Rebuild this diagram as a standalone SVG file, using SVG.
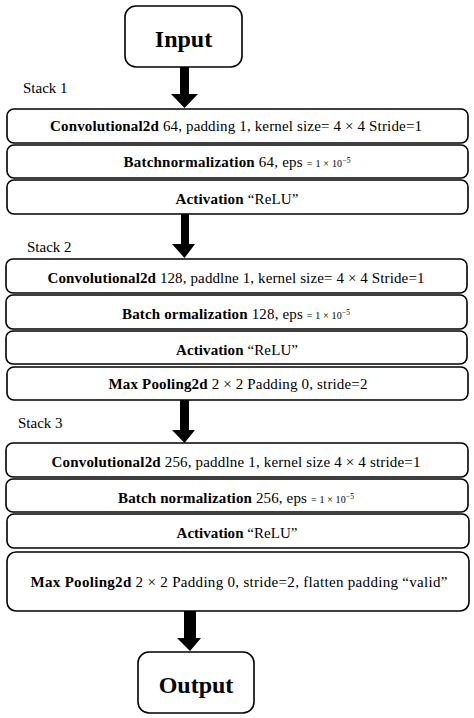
<svg xmlns="http://www.w3.org/2000/svg" width="474" height="718" viewBox="0 0 474 718">
<style>
.box{fill:#fff;stroke:#000;stroke-width:1.6}
.t{font-family:"Liberation Serif","DejaVu Serif",serif;font-size:15px;fill:#000;text-anchor:middle}
.b{font-weight:bold}
.s{font-size:10px}
.sup{font-size:7.5px}
.big{font-family:"Liberation Serif","DejaVu Serif",serif;font-size:24px;font-weight:bold;text-anchor:middle}
.lbl{font-family:"Liberation Serif","DejaVu Serif",serif;font-size:15px}
.arr{fill:#000}
</style>
<rect width="474" height="718" fill="#fff"/>
<g id="connectors">
<polygon class="arr" points="180,67 189,67 189,94 198,94 184.5,108 171,94 180,94"/>
<polygon class="arr" points="181,214 189,214 189,244 195,244 184.5,258 172,244 181,244"/>
<polygon class="arr" points="180,400 189,400 189,430 195,430 184.5,443 172,430 180,430"/>
<polygon class="arr" points="184,611 196,611 196,638 201,638 190,651 177,638 184,638"/>
</g>
<g id="input"><rect class="box" x="125" y="6" width="117" height="61" rx="11"/><text class="big" x="183.5" y="47">Input</text></g>
<g id="stack1-label"><text class="lbl" x="23" y="93">Stack 1</text></g>
<g id="conv1"><rect class="box" x="7" y="109" width="461" height="34" rx="7"/><text class="t" x="236" y="131" textLength="372" lengthAdjust="spacing"><tspan class="b">Convolutional2d</tspan> 64, padding 1, kernel size= 4 × 4 Stride=1</text></g>
<g id="bn1"><rect class="box" x="7" y="145" width="461" height="33" rx="7"/><text class="t" x="237" y="167" textLength="227" lengthAdjust="spacing"><tspan class="b">Batchnormalization</tspan> 64, eps <tspan class="s">= 1 × 10</tspan><tspan class="sup" dy="-4">−5</tspan></text></g>
<g id="act1"><rect class="box" x="7" y="180" width="461" height="34" rx="7"/><text class="t" x="237" y="204" textLength="123" lengthAdjust="spacing"><tspan class="b">Activation</tspan> “ReLU”</text></g>
<g id="stack2-label"><text class="lbl" x="27" y="252">Stack 2</text></g>
<g id="conv2"><rect class="box" x="6" y="259" width="461" height="34" rx="7"/><text class="t" x="236" y="283" textLength="377" lengthAdjust="spacing"><tspan class="b">Convolutional2d</tspan> 128, paddlne 1, kernel size= 4 × 4 Stride=1</text></g>
<g id="bn2"><rect class="box" x="6" y="295" width="461" height="34" rx="7"/><text class="t" x="236" y="319" textLength="228" lengthAdjust="spacing"><tspan class="b">Batch ormalization</tspan> 128, eps <tspan class="s">= 1 × 10</tspan><tspan class="sup" dy="-4">−5</tspan></text></g>
<g id="act2"><rect class="box" x="6" y="331" width="461" height="33" rx="7"/><text class="t" x="237" y="355" textLength="122" lengthAdjust="spacing"><tspan class="b">Activation</tspan> “ReLU”</text></g>
<g id="pool2"><rect class="box" x="7" y="367" width="461" height="33" rx="7"/><text class="t" x="238" y="389" textLength="259" lengthAdjust="spacing"><tspan class="b">Max Pooling2d</tspan> 2 × 2 Padding 0, stride=2</text></g>
<g id="stack3-label"><text class="lbl" x="18" y="428">Stack 3</text></g>
<g id="conv3"><rect class="box" x="6" y="443" width="462" height="34" rx="7"/><text class="t" x="236" y="467" textLength="369" lengthAdjust="spacing"><tspan class="b">Convolutional2d</tspan> 256, paddlne 1, kernel size 4 × 4 stride=1</text></g>
<g id="bn3"><rect class="box" x="6" y="479" width="462" height="33" rx="7"/><text class="t" x="236" y="503" textLength="236" lengthAdjust="spacing"><tspan class="b">Batch normalization</tspan> 256, eps <tspan class="s">= 1 × 10</tspan><tspan class="sup" dy="-4">−5</tspan></text></g>
<g id="act3"><rect class="box" x="7" y="514" width="462" height="34" rx="7"/><text class="t" x="237" y="538" textLength="121" lengthAdjust="spacing"><tspan class="b">Activation</tspan> “ReLU”</text></g>
<g id="pool3"><rect class="box" x="7" y="552" width="462" height="59" rx="9"/><text class="t" x="239" y="587" textLength="417" lengthAdjust="spacing"><tspan class="b">Max Pooling2d</tspan> 2 × 2 Padding 0, stride=2, flatten padding “valid”</text></g>
<g id="output"><rect class="box" x="138" y="652" width="116" height="61" rx="11"/><text class="big" x="196" y="693">Output</text></g>
</svg>
